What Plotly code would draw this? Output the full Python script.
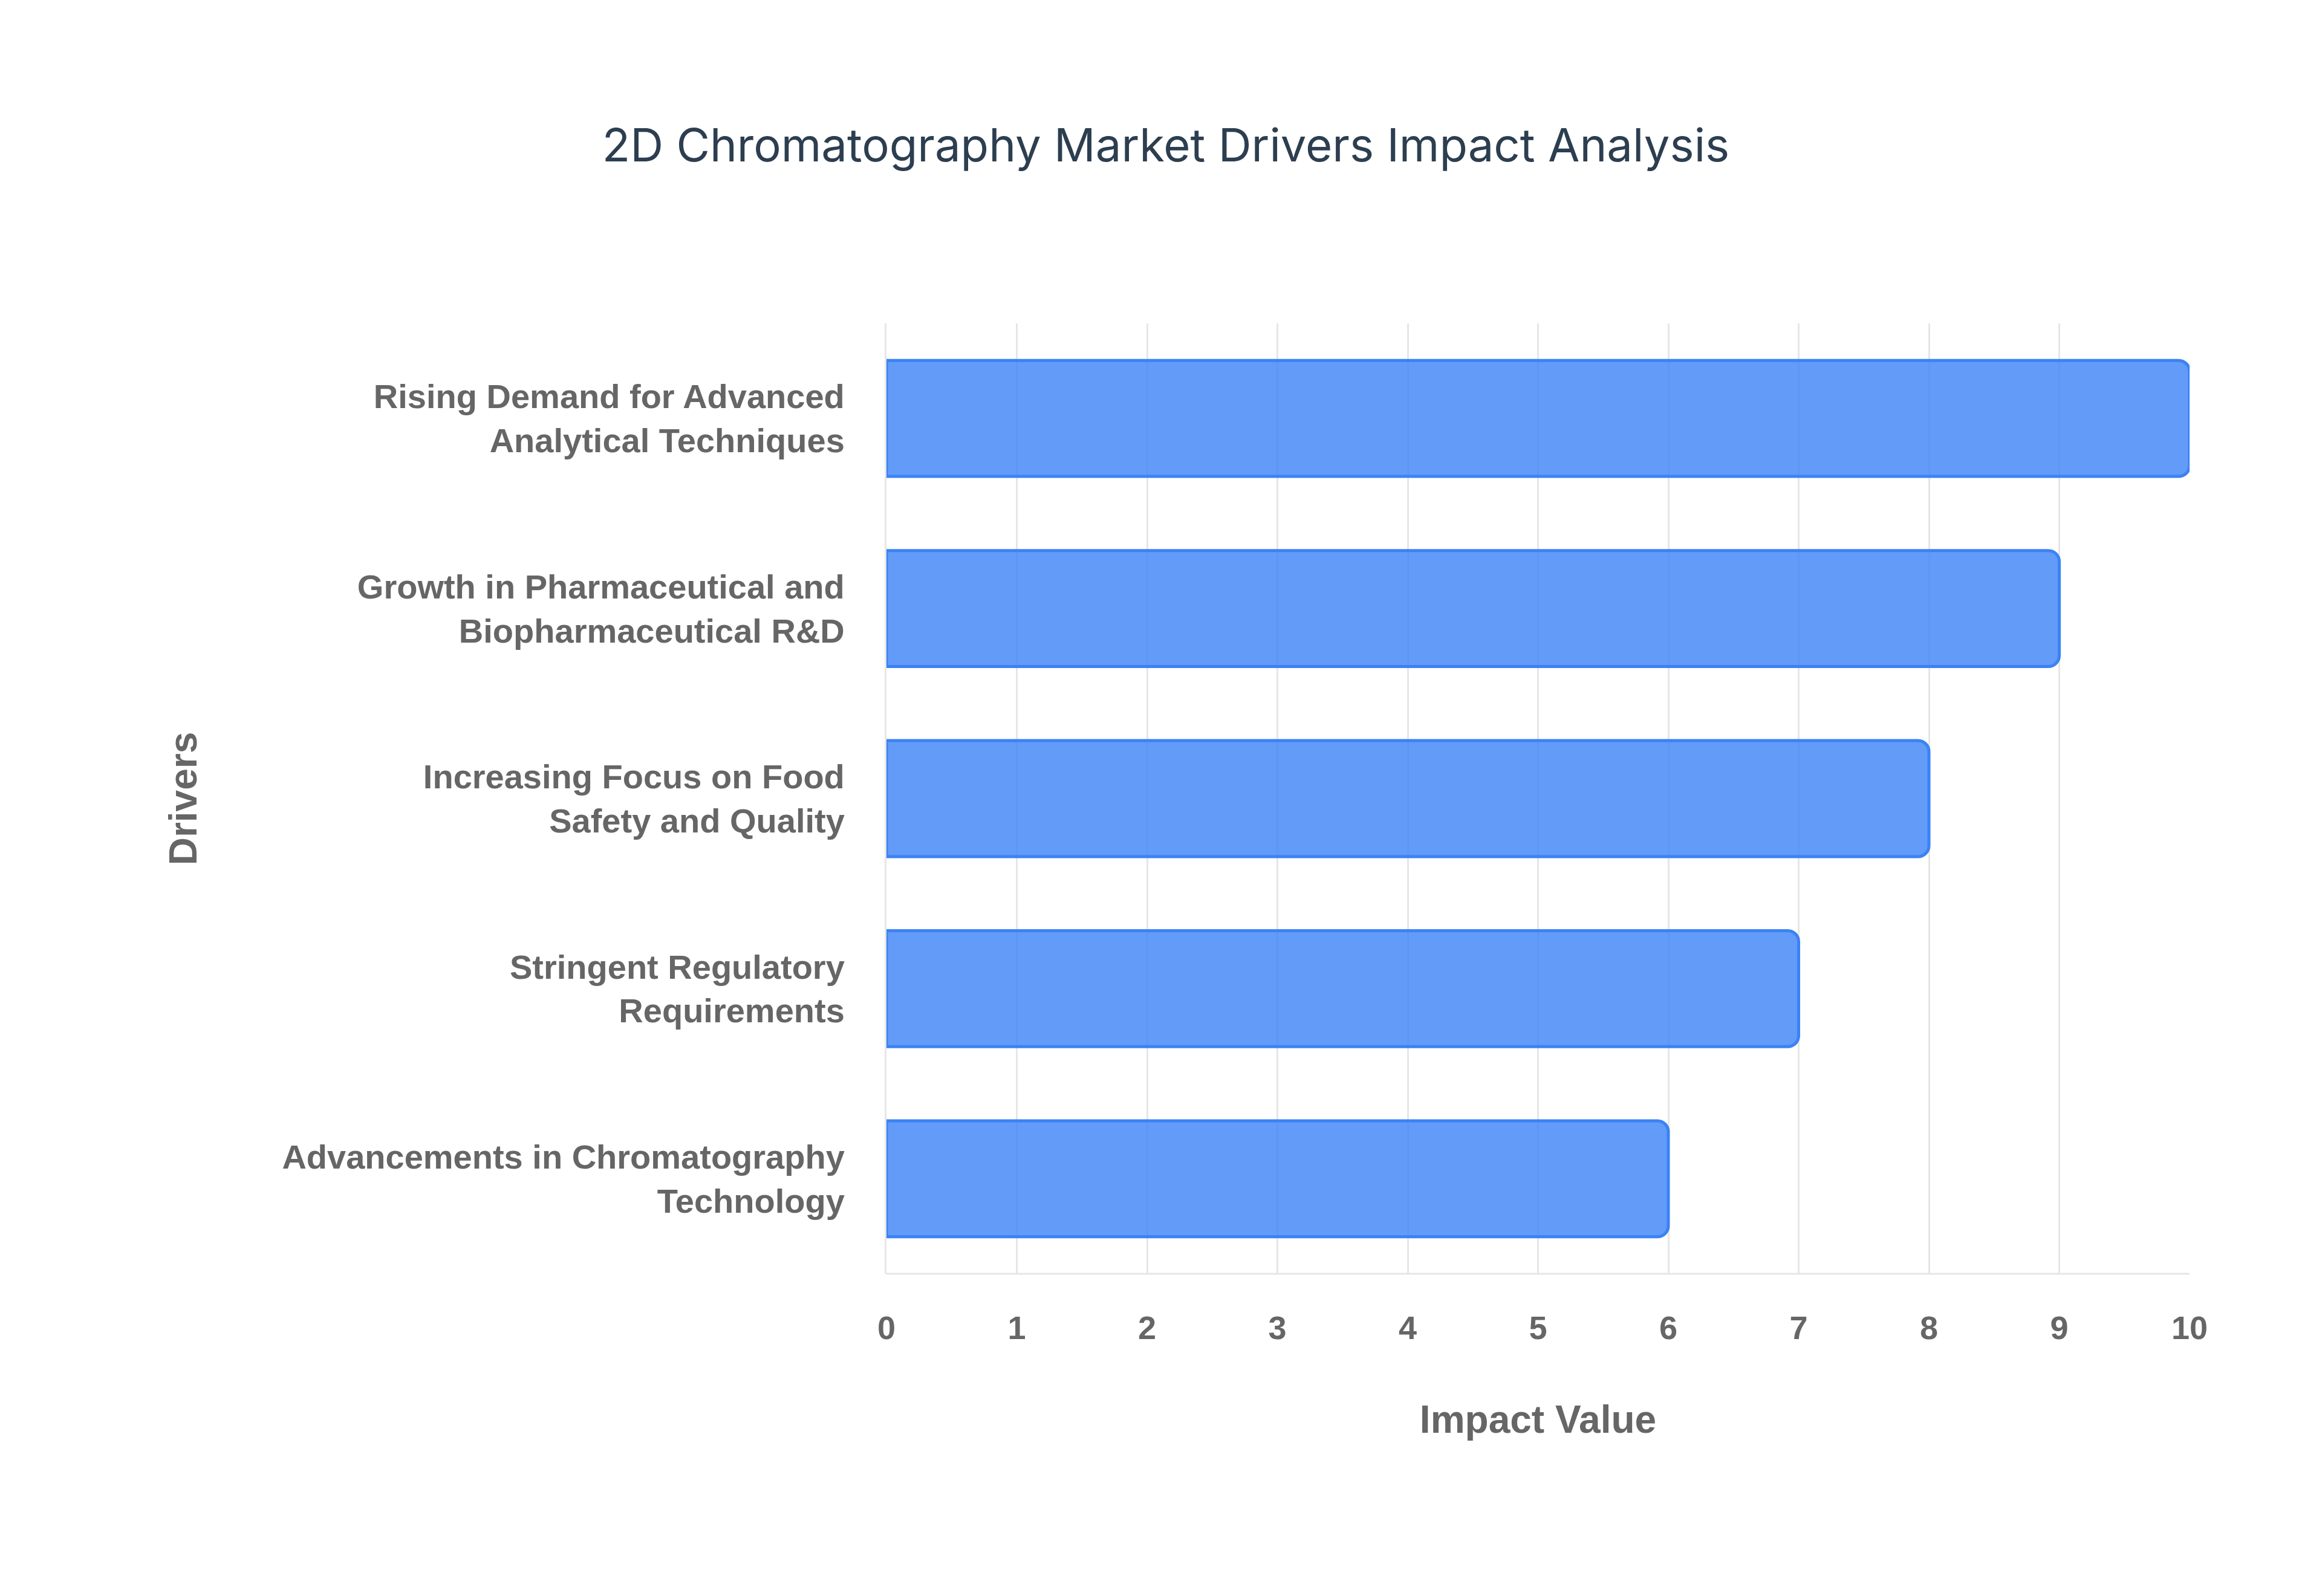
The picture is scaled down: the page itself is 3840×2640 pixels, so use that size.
import plotly.graph_objects as go

drivers = ["Advancements in Chromatography<br>Technology",
           "Stringent Regulatory<br>Requirements",
           "Increasing Focus on Food<br>Safety and Quality",
           "Growth in Pharmaceutical and<br>Biopharmaceutical R&D",
           "Rising Demand for Advanced<br>Analytical Techniques"]
impact = [6, 7, 8, 9, 10]

fig = go.Figure(go.Bar(
    x=impact, y=drivers, orientation="h",
    marker=dict(color="rgba(59,130,246,0.8)", line=dict(color="#3b82f6", width=5), cornerradius=18),
))
fig.update_layout(
    width=3840, height=2640,
    paper_bgcolor="white", plot_bgcolor="white",
    margin=dict(l=1458, r=227, t=527, b=541),
    title=dict(text="2D Chromatography Market Drivers Impact Analysis", x=0.5, xanchor="center",
               y=0.912, yanchor="middle", font=dict(family="Inter", size=76, color="#2c3e50")),
    bargap=0.39, showlegend=False,
    font=dict(family="Liberation Sans", color="#666666"),
)
fig.update_xaxes(range=[0, 10], dtick=1, showgrid=True, gridcolor="#e6e6e6", gridwidth=3,
                 zeroline=False, showline=False, ticks="outside", ticklen=42, tickcolor="rgba(0,0,0,0)", tickwidth=3,
                 tickfont=dict(size=54, family="Liberation Sans", weight="bold", color="#666666"),
                 title=dict(text="Impact Value", standoff=100,
                            font=dict(size=64, family="Liberation Sans", weight="bold", color="#666666")))
fig.update_yaxes(showgrid=False, showline=True, linecolor="#e6e6e6", linewidth=3, ticks="outside", ticklen=55,
                 tickcolor="rgba(0,0,0,0)", mirror=False,
                 tickfont=dict(size=56, family="Liberation Sans", weight="bold", color="#666666"),
                 title=dict(text="Drivers", standoff=120,
                            font=dict(size=64, family="Liberation Sans", weight="bold", color="#666666")))
fig.add_shape(type="line", xref="paper", yref="paper", x0=0, x1=1, y0=0, y1=0,
              line=dict(color="#e6e6e6", width=3))
fig.write_html("out.html")
